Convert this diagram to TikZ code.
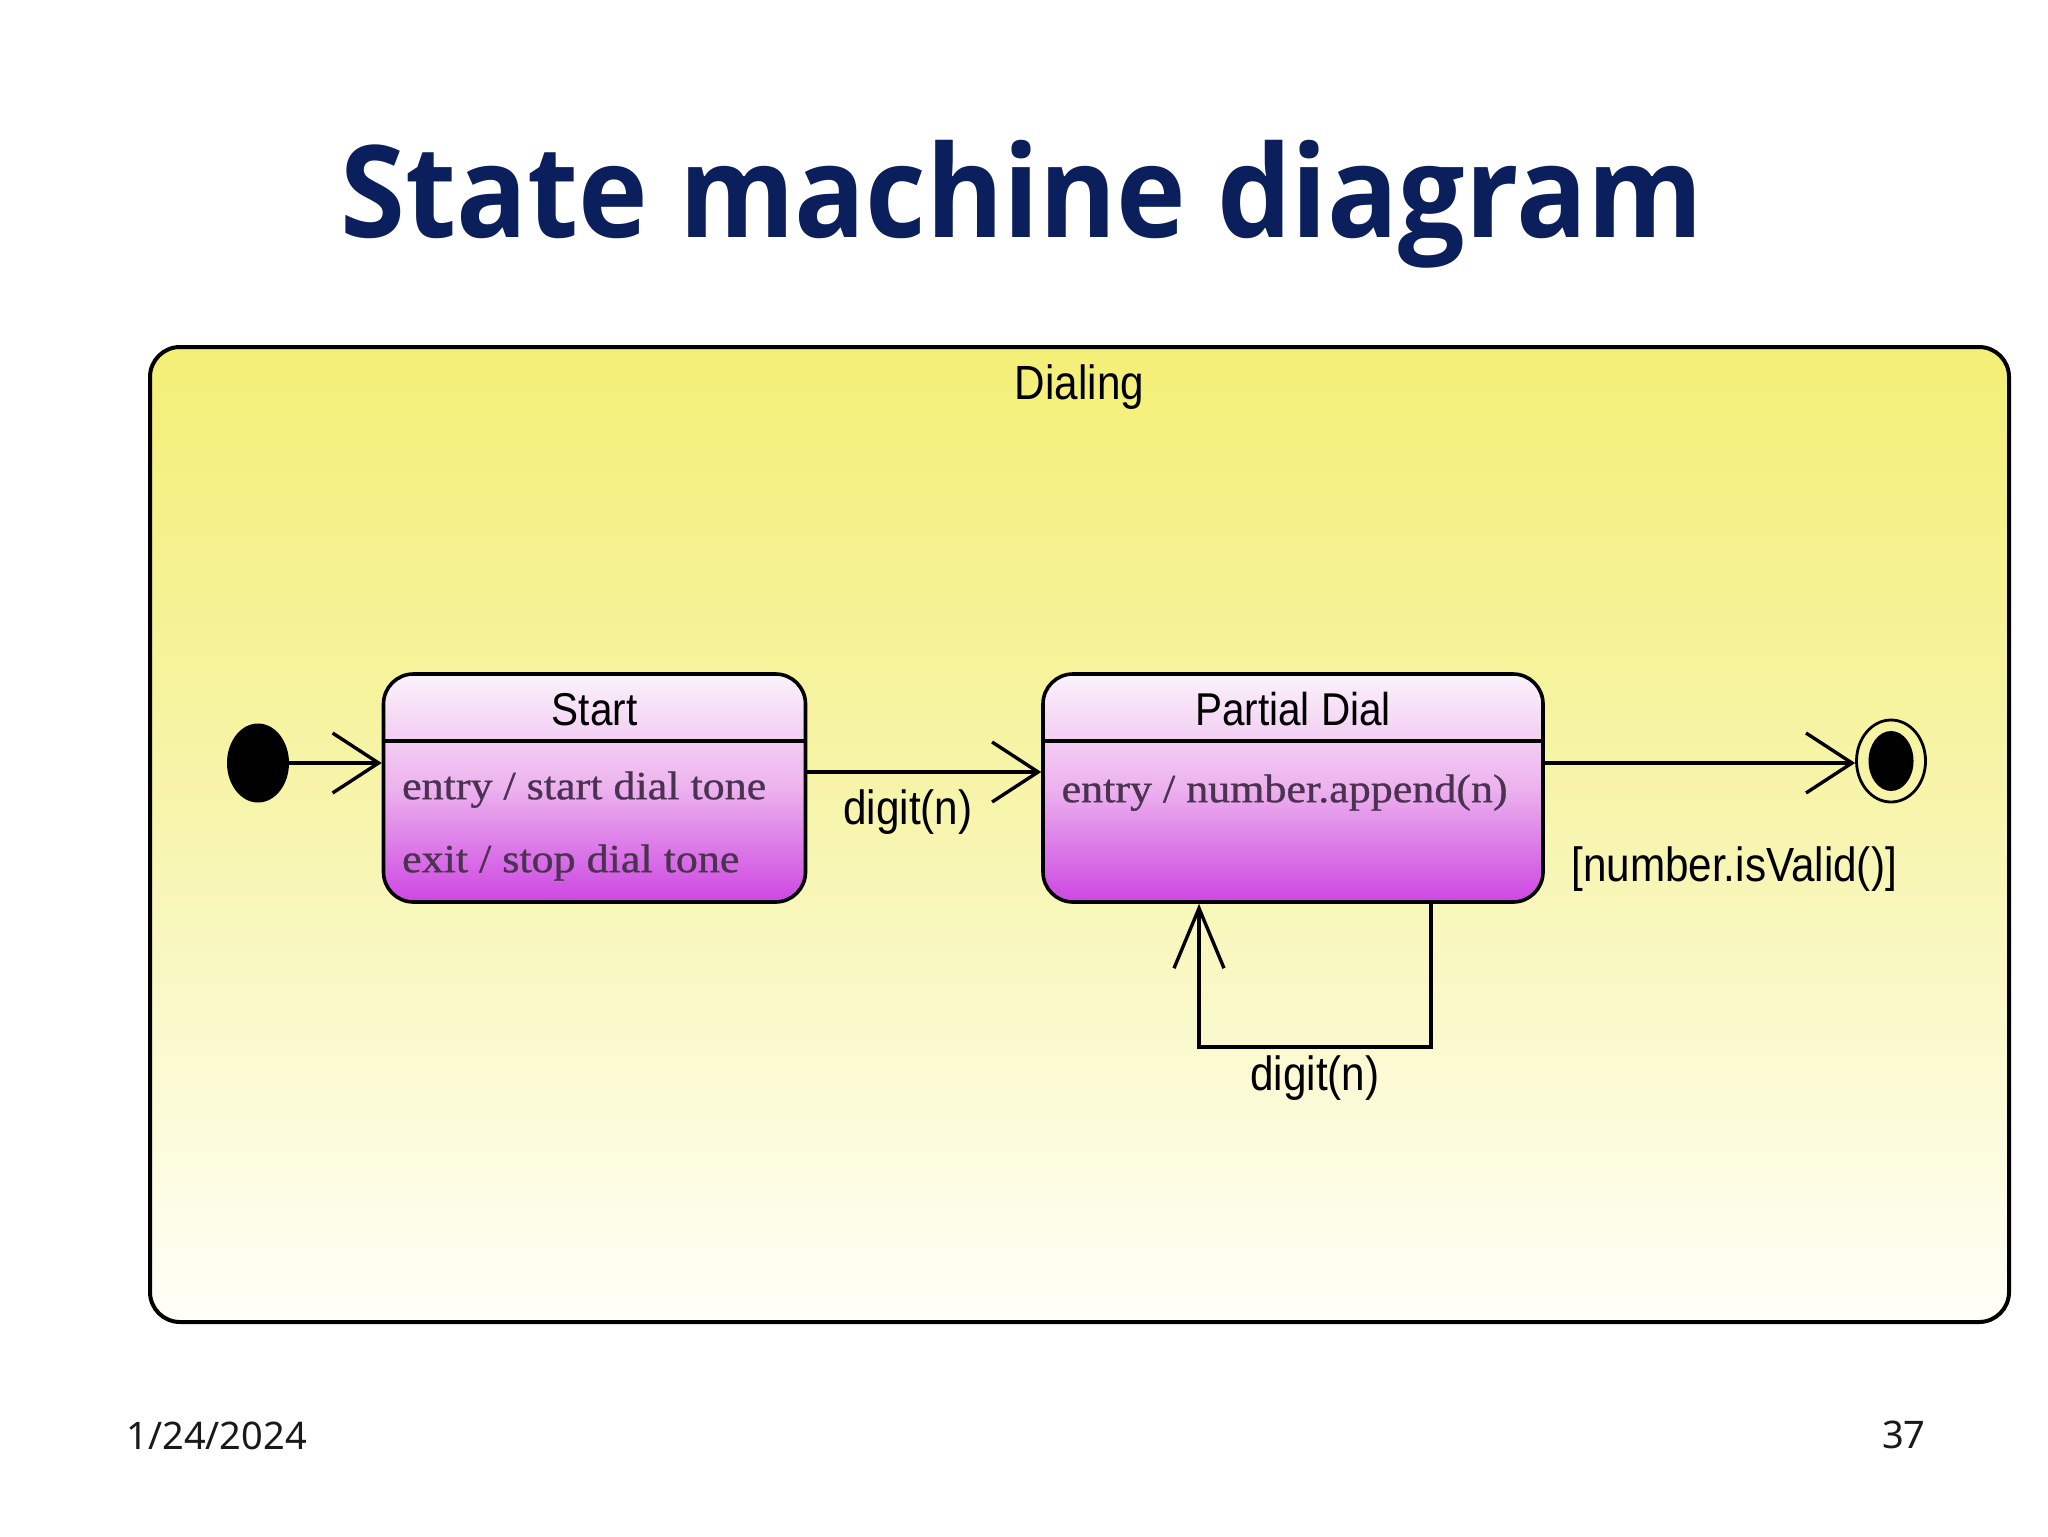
\documentclass[tikz,border=0pt]{standalone}
\usepackage{fontspec}
\usetikzlibrary{arrows.meta,shapes.geometric}
\setmainfont{Noto Sans}
\newfontfamily\titlefont{Open Sans}[FakeStretch=0.92]
\newfontfamily\umlfont{Liberation Sans}[FakeStretch=0.88]
\newfontfamily\actfont{Liberation Serif}[FakeStretch=1.1,FakeBold=0.8]
\definecolor{titleblue}{RGB}{10,31,92}
\definecolor{dialtop}{RGB}{243,239,118}
\definecolor{dialmid}{RGB}{247,245,175}
\definecolor{dialbot}{RGB}{255,255,248}
\definecolor{statetop}{RGB}{251,243,251}
\definecolor{statemid}{RGB}{236,178,238}
\definecolor{statebot}{RGB}{205,70,226}
\definecolor{acttext}{RGB}{75,50,80}
\begin{document}
\begin{tikzpicture}[x=0.5pt,y=-0.5pt,
composite/.style={draw,line width=2pt,rounded corners=15pt,inner sep=0pt,top color=dialtop,bottom color=dialbot,middle color=dialmid},
statebox/.style={draw,line width=1.8pt,rounded corners=15pt,inner sep=0pt,minimum height=114pt,top color=statetop,bottom color=statebot,middle color=statemid},
statename/.style={font=\umlfont\fontsize{23}{26}\selectfont,inner sep=0pt},
actline/.style={font=\actfont\fontsize{20}{24}\selectfont,text=acttext,inner sep=0pt},
umllabel/.style={font=\umlfont\fontsize{24}{28}\selectfont,inner sep=2pt},
trans/.style={line width=1.7pt,-{Straight Barb[length=23pt,width=30pt]}},
loopback/.style={line width=1.7pt,-{Straight Barb[length=30pt,width=25pt]}},
initstate/.style={ellipse,fill=black,inner sep=0pt,minimum width=31pt,minimum height=39.5pt},
finalring/.style={ellipse,draw,line width=1.4pt,inner sep=0pt,minimum width=34.5pt,minimum height=41pt},
finaldot/.style={ellipse,fill=black,inner sep=0pt,minimum width=22.5pt,minimum height=30pt},
footer/.style={font=\fontsize{19}{23}\selectfont,text=black!90,inner sep=0pt}]
\fill[white] (0,0) rectangle (2048,1536);
\useasboundingbox (0,0) rectangle (2048,1536);
\node [font=\titlefont\bfseries\fontsize{64}{70}\selectfont,text=titleblue,anchor=base,inner sep=0pt] (title) at (1022,237) {State machine diagram};
\node [composite,minimum width=929.5pt,minimum height=487.5pt] (dialing) at (1079.5,834.5) {};
\node [umllabel,anchor=base,inner sep=0pt] (dialingname) at ([yshift=-27pt]dialing.north) {Dialing};
\node [statebox,minimum width=211pt] (start) at (594.5,788) {};
\node [statename,anchor=base] (startname) at ([yshift=-26.5pt]start.north) {Start};
\draw [line width=1.8pt] ([yshift=-34.5pt]start.north west) -- ([yshift=-34.5pt]start.north east);
\node [actline,anchor=base west] (startentry) at ([xshift=10pt,yshift=-63.5pt]start.north west) {entry / start dial tone};
\node [actline,anchor=base west] (startexit) at ([xshift=10pt,yshift=-100pt]start.north west) {exit / stop dial tone};
\node [statebox,minimum width=250pt] (partial) at (1293,788) {};
\node [statename,anchor=base] (partialname) at ([yshift=-26.5pt]partial.north) {Partial Dial};
\draw [line width=1.8pt] ([yshift=-34.5pt]partial.north west) -- ([yshift=-34.5pt]partial.north east);
\node [actline,anchor=base west] (partialentry) at ([xshift=10pt,yshift=-65pt]partial.north west) {entry / number.append(n)};
\node [initstate] (init) at (258,763) {};
\node [finalring] (final) at (1891,761) {};
\node [finaldot] (finaldot) at (final) {};
\draw [trans] (init.east) -- (init.east -| start.west);
\draw [trans] ([yshift=8pt]start.east) -- ([yshift=8pt]start.east -| partial.west)
	node [umllabel,below=6pt,pos=0.43] (digitlabel) {digit(n)};
\draw [trans] ([yshift=12.5pt]partial.east) -- ([yshift=12.5pt]partial.east -| final.west)
	node [umllabel,below=39pt,pos=0.61] (guardlabel) {[number.isValid()]};
\draw [loopback] ([xshift=69pt]partial.south) -- ++(0,-71.5pt) -| ([xshift=-47pt]partial.south)
	node [umllabel,below=1.5pt,pos=0.25] (looplabel) {digit(n)};
\node [footer,anchor=base west] (date) at (126,1449) {1/24/2024};
\node [footer,anchor=base east] (pagenum) at (1926,1448) {37};
\end{tikzpicture}
\end{document}
